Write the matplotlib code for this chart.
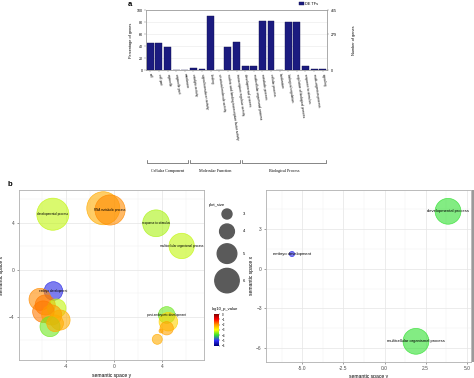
import matplotlib
matplotlib.use("Agg")
import matplotlib.pyplot as plt
import numpy as np
from matplotlib.colors import LinearSegmentedColormap, Normalize
from matplotlib.cm import ScalarMappable
from matplotlib.patches import Rectangle

W, H, DPI = 474, 378, 100

# panel a: GO categories (WEGO style)
go_terms = ["cell", "cell part", "organelle", "organelle part", "membrane",
            "catalytic activity", "signal transducer activity", "binding",
            "structural molecule activity",
            "nucleic acid binding transcription factor activity",
            "transcription regulator activity",
            "developmental process", "multicellular organismal process",
            "metabolic process", "cellular process", "localization",
            "biological regulation", "regulation of biological process",
            "response to stimulus", "multi-organism process", "signaling"]
go_percent = [45, 45, 38, 0, 0, 3, 1, 91, 0, 38, 47, 7, 7, 82, 83, 0, 80, 80, 6, 1, 1]
go_groups = ["Cellular Component", "Molecular Function", "Biological Process"]
go_group_sizes = [5, 6, 10]
pct_ticks = [0, 20, 40, 60, 80, 100]
gene_tick_pct = [0, 60, 100]
gene_tick_labels = ["0", "279", "465"]

# panel b left: REVIGO scatter
left_terms = ["developmental process", "", "RNA metabolic process", "response to stimulus",
              "multicellular organismal process", "embryo development",
              "", "", "", "", "", "", "", "",
              "post-embryonic development", "", "", "", ""]
left_sy = [-5.07, -0.89, -0.33, 3.48, 5.6, -5.02,
           -6.13, -5.7, -4.75, -5.85, -5.16, -4.47, -5.3, -4.88,
           4.36, 4.5, 4.36, 3.89, 3.58]
left_sx = [4.74, 5.25, 5.1, 3.97, 2.04, -1.79,
           -2.5, -2.98, -3.26, -3.55, -3.83, -4.26, -4.82, -4.54,
           -3.83, -4.4, -4.96, -5.19, -5.9]
left_size = [7.6, 7.8, 7.2, 6.5, 6.2, 4.8,
             5.5, 5.1, 4.8, 5.4, 5.1, 5.1, 5.1, 4.4,
             4.4, 4.8, 3.7, 1.75, 3.0]
left_pval = [-3.3, -2.2, -1.9, -3.4, -3.3, -5.2,
             -1.9, -1.8, -3.3, -1.8, -2.0, -2.2, -3.7, -2.2,
             -3.7, -2.6, -2.1, -2.1, -2.2]
legend_sizes = [3, 4, 5, 6]
cbar_ticks = [0, -1, -2, -3, -4, -5, -6]

# panel b right
right_terms = ["developmental process", "embryo development", "multicellular organismal process"]
right_sy = [3.86, -5.63, 1.91]
right_sx = [4.34, 1.11, -5.49]
right_size = [6.3, 2.0, 6.3]
right_pval = [-4.0, -5.2, -4.0]

cmap = LinearSegmentedColormap.from_list(
    "pv", ["#00007f", "#3030ff", "#30e030", "#ffff00", "#ff9900", "#ff0000", "#7f0000"])
norm = Normalize(vmin=-6, vmax=0)


def px_rect(left, top, right, bottom):
    return [left / W, 1 - bottom / H, (right - left) / W, (bottom - top) / H]


def bubble_area(v):
    r_px = 5 + 2.4 * (np.asarray(v, dtype=float) - 3)
    return (2 * r_px * 72 / DPI) ** 2


def bubbles(ax, xs, ys, sizes, pvals, terms, fs):
    cols = cmap(norm(np.array(pvals)))
    face = cols.copy(); face[:, 3] = 0.6
    edge = cols.copy(); edge[:, 3] = 0.8
    ax.scatter(xs, ys, s=bubble_area(sizes), facecolors=face, edgecolors=edge,
               linewidths=0.5, zorder=3)
    for x, y, t in zip(xs, ys, terms):
        if t:
            ax.text(x, y, t, fontsize=fs, ha="center", va="center", zorder=4)


def ggplot_axes(ax, xlim, ylim, xt, yt, xminor, yminor, xfmt):
    ax.set_xlim(*xlim); ax.set_ylim(*ylim)
    ax.set_xticks(xt); ax.set_yticks(yt)
    ax.set_xticks(xminor, minor=True); ax.set_yticks(yminor, minor=True)
    ax.set_xticklabels([xfmt(v) for v in xt])
    ax.grid(True, which="major", color="#e5e5e5", lw=0.5)
    ax.grid(True, which="minor", color="#f0f0f0", lw=0.3)
    ax.set_axisbelow(True)
    ax.tick_params(which="both", length=1.5, width=0.4, color="#555555",
                   labelsize=3.5, labelcolor="#4d4d4d", pad=1.5)
    ax.tick_params(which="minor", length=0)
    for s in ax.spines.values():
        s.set_color("#b0b0b0"); s.set_linewidth(0.6)
    ax.set_xlabel("semantic space y", fontsize=3.6)
    ax.set_ylabel("semantic space x", fontsize=3.6)


fig = plt.figure(figsize=(W / DPI, H / DPI), dpi=DPI)
plt.rcParams["font.family"] = ["Liberation Sans", "DejaVu Sans"]

# ---- panel a ----
ax_a = fig.add_axes(px_rect(146, 10.5, 327, 70))
xpos = np.arange(len(go_terms))
ax_a.bar(xpos, go_percent, width=0.8, color="#1b1b80", edgecolor="#10104f",
         linewidth=0.3, label="DE TFs", zorder=2)
ax_a.set_xlim(-0.5, len(go_terms) - 0.5)
ax_a.set_ylim(0, 100)
ax_a.set_yticks(pct_ticks)
ax_a.yaxis.grid(True, color="#e8e8e8", lw=0.4)
ax_a.set_axisbelow(True)
ax_a.set_xticks(xpos)
ax_a.set_xticklabels(go_terms, rotation=-82, ha="left", va="center",
                     rotation_mode="anchor", fontsize=2.3)
ax_a.tick_params(axis="x", length=1.2, width=0.3, pad=1.2, color="#777777")
ax_a.tick_params(axis="y", labelsize=2.6, length=1.5, width=0.3, pad=1, color="#777777")
for s in ax_a.spines.values():
    s.set_color("#999999"); s.set_linewidth(0.4)
ax_a.set_ylabel("Percentage of genes", fontsize=2.8)
ax_a.yaxis.set_label_coords(-0.072, 0.5)

ax_r = ax_a.twinx()
ax_r.set_ylim(0, 100)
ax_r.set_yticks(gene_tick_pct)
ax_r.set_yticklabels(gene_tick_labels)
ax_r.tick_params(axis="y", labelsize=2.6, length=1.5, width=0.3, pad=1, color="#777777")
for s in ax_r.spines.values():
    s.set_color("#999999"); s.set_linewidth(0.4)
ax_r.set_ylabel("Number of genes", fontsize=2.8)
ax_r.yaxis.set_label_coords(1.138, 0.5)

ax_a.legend(loc="center", bbox_to_anchor=(0.9, 1.11), fontsize=2.8, frameon=False,
            handlelength=1.3, handleheight=0.7, borderpad=0, handletextpad=0.3)

# group brackets under the category labels
trans = ax_a.get_xaxis_transform()
start = 0
for name, n in zip(go_groups, go_group_sizes):
    x0, x1 = start - 0.38, start + n - 0.62
    ax_a.plot([x0, x0, x1, x1], [-1.52, -1.565, -1.565, -1.52], transform=trans,
              color="#555555", lw=0.5, clip_on=False)
    ax_a.text((x0 + x1) / 2, -1.69, name, transform=trans, ha="center", va="center",
              fontsize=3, family="Liberation Serif")
    start += n

fig.text(128 / W, 1 - 5 / H, "a", fontsize=5.5, fontweight="bold", va="center")
fig.text(8 / W, 1 - 185 / H, "b", fontsize=5.5, fontweight="bold", va="center")

# ---- panel b left ----
ax_b = fig.add_axes(px_rect(19, 190, 204, 360))
ggplot_axes(ax_b, (-7.87, 7.45), (-7.66, 6.8), [-4, 0, 4], [-4, 0, 4],
            [-6, -2, 2, 6], [-6, -2, 2, 6], lambda v: f"{v:g}")
bubbles(ax_b, left_sy, left_sx, left_size, left_pval, left_terms, 2.2)
ax_b.xaxis.set_label_coords(0.5, -0.078)
ax_b.yaxis.set_label_coords(-0.082, 0.5)

# size legend
ax_s = fig.add_axes(px_rect(205, 195, 255, 300))
ax_s.set_xlim(205, 255); ax_s.set_ylim(300, 195)
ax_s.axis("off")
radii = 5 + 2.4 * (np.array(legend_sizes) - 3)
centers = [214.0]
for r0, r1 in zip(radii[:-1], radii[1:]):
    centers.append(centers[-1] + r0 + r1 + 5)
ax_s.scatter([227] * len(legend_sizes), centers, s=bubble_area(legend_sizes),
             color="#5a5a5a", clip_on=False)
for c, v in zip(centers, legend_sizes):
    ax_s.text(243, c, str(v), fontsize=3, va="center")
fig.text(209 / W, 1 - 205 / H, "plot_size", fontsize=3, va="center")

# colour bar
cax = fig.add_axes(px_rect(214, 314, 219.3, 345.7))
cb = fig.colorbar(ScalarMappable(norm=norm, cmap=cmap), cax=cax)
cb.set_ticks(cbar_ticks)
cb.ax.tick_params(labelsize=2.2, length=1, width=0.3, pad=1)
cb.outline.set_visible(False)
fig.text(212 / W, 1 - 309 / H, "log10_p_value", fontsize=3, va="center")

# ---- panel b right ----
ax_c = fig.add_axes(px_rect(266, 190, 470.7, 361.7))
ggplot_axes(ax_c, (-7.21, 5.24), (-7.03, 5.95), [-5, -2.5, 0, 2.5, 5], [-6, -3, 0, 3],
            [-6.25, -3.75, -1.25, 1.25, 3.75], [-4.5, -1.5, 1.5, 4.5],
            lambda v: f"{v:.1f}")
bubbles(ax_c, right_sy, right_sx, right_size, right_pval, right_terms, 3)
ax_c.xaxis.set_label_coords(0.5, -0.072)
ax_c.yaxis.set_label_coords(-0.059, 0.5)

fig.add_artist(Rectangle((471.5 / W, 1 - 362 / H), 2.5 / W, 172 / H,
                         transform=fig.transFigure, color="#9a9a9a", lw=0))

fig.savefig("out.png", dpi=DPI)
